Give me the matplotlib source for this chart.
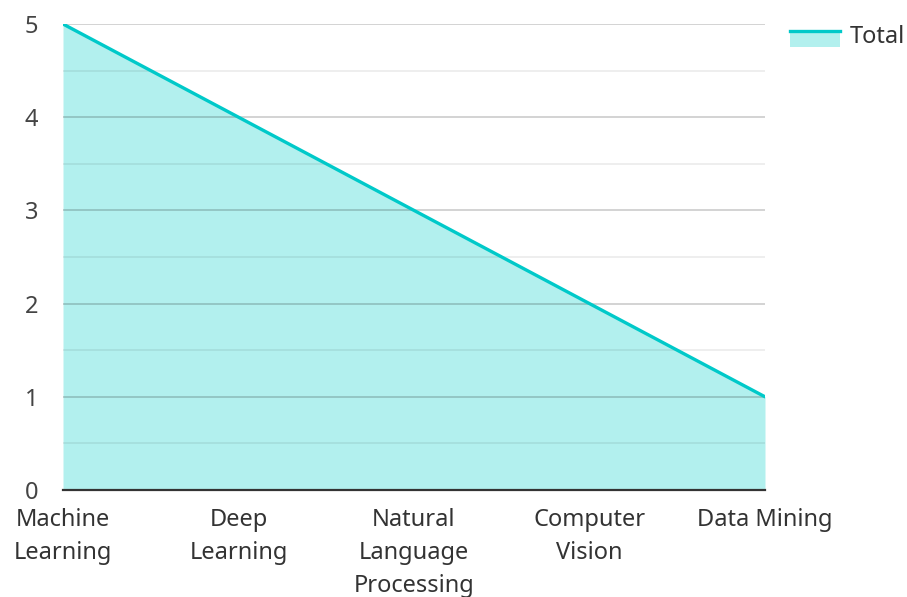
import matplotlib.pyplot as plt
from matplotlib.patches import Patch, Rectangle
from matplotlib.lines import Line2D
from matplotlib.legend_handler import HandlerBase

plt.rcParams['font.family'] = ['Noto Sans', 'DejaVu Sans']

# chart data
categories = ["Machine\nLearning", "Deep\nLearning", "Natural\nLanguage\nProcessing",
              "Computer\nVision", "Data Mining"]
total = [5, 4, 3, 2, 1]

line_color = '#00c9c9'
fill_color = '#b2f0ee'


class AreaHandler(HandlerBase):
    # fill box with the line along its top edge
    def create_artists(self, legend, orig_handle, xdescent, ydescent, width, height, fontsize, trans):
        top = -ydescent + height * 0.72
        bottom = -ydescent - height * 0.1
        rect = Rectangle((-xdescent, bottom), width, top - bottom,
                         facecolor=fill_color, edgecolor='none', transform=trans)
        ln = Line2D([-xdescent, -xdescent + width], [top, top], color=line_color,
                    linewidth=2.4, transform=trans)
        return [rect, ln]


fig = plt.figure(figsize=(9.07, 5.97), dpi=100)
ax = fig.add_axes([63 / 907, 1 - 490 / 597, (765 - 63) / 907, (490 - 24) / 597])

x = list(range(len(categories)))
ax.fill_between(x, total, 0, color=fill_color, linewidth=0, zorder=1)
ax.plot(x, total, color=line_color, linewidth=2.4, zorder=4, solid_capstyle='round')

ax.set_xlim(0, len(categories) - 1)
ax.set_ylim(0, 5)
ax.set_yticks([0, 1, 2, 3, 4, 5])
ax.set_yticks([0.5, 1.5, 2.5, 3.5, 4.5], minor=True)
ax.set_xticks(x)
ax.set_xticklabels(categories, fontsize=17, color='#333333', linespacing=1.5)
ax.tick_params(axis='y', which='major', labelsize=17, labelcolor='#444444', length=0, pad=18)
ax.tick_params(axis='y', which='minor', length=0)
ax.tick_params(axis='x', length=0, pad=13)

ax.grid(axis='y', which='major', color='#000000', alpha=0.2, linewidth=1.2, zorder=2)
ax.grid(axis='y', which='minor', color='#000000', alpha=0.08, linewidth=1.2, zorder=2)
ax.set_axisbelow(False)

for s in ['top', 'right', 'left']:
    ax.spines[s].set_visible(False)
ax.spines['bottom'].set_color('#333333')
ax.spines['bottom'].set_linewidth(1.6)
ax.spines['bottom'].set_zorder(5)

fig.legend([Patch()], ['Total'], handler_map={Patch: AreaHandler()},
           loc='center left', bbox_to_anchor=(790 / 907, 1 - 37 / 597),
           frameon=False, fontsize=17, handlelength=2.1, handleheight=0.9,
           handletextpad=0.42, borderpad=0, borderaxespad=0, labelcolor='#333333')

fig.savefig('out.png', dpi=100)
